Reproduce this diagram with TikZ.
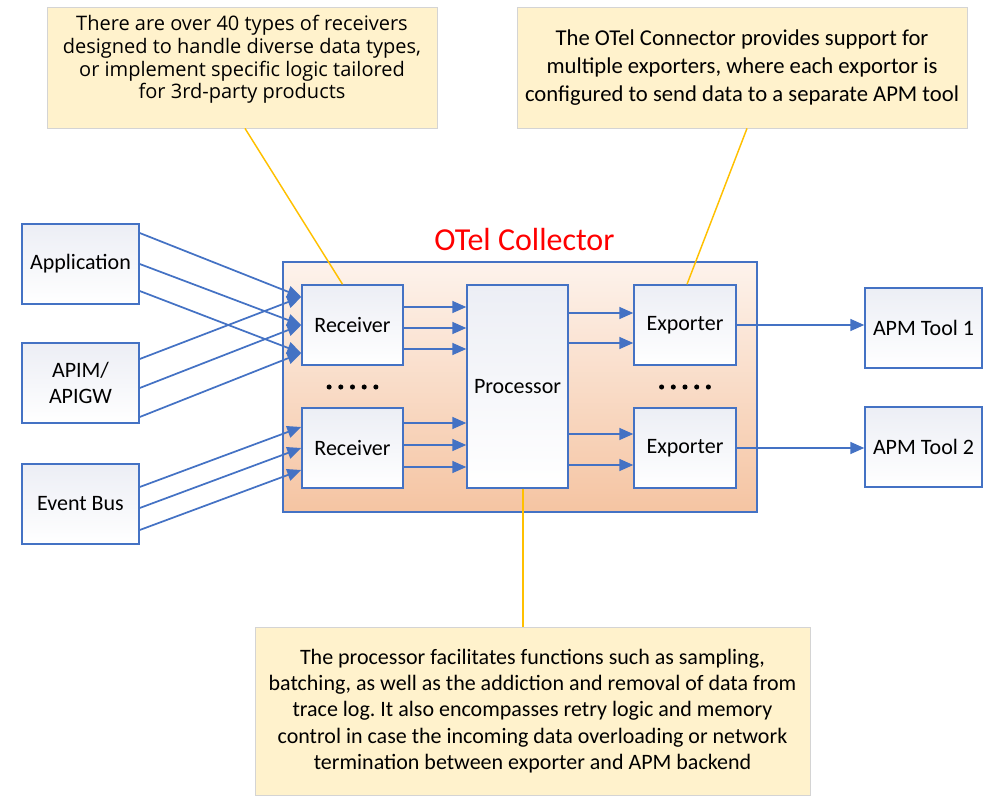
\documentclass[tikz,border=0pt]{standalone}
\usepackage{fontspec}
\setmainfont{Carlito}
\newfontfamily\notefont{Open Sans}
\usetikzlibrary{calc, positioning}
\usetikzlibrary{arrows.meta}
\frenchspacing

\definecolor{flowblue}{RGB}{68,114,196}
\definecolor{boxtop}{RGB}{236,238,245}
\definecolor{colltop}{RGB}{253,243,236}
\definecolor{collbot}{RGB}{245,196,162}
\definecolor{notefill}{RGB}{255,242,204}
\definecolor{noteline}{RGB}{212,212,212}
\definecolor{callout}{RGB}{255,192,0}
\definecolor{titlered}{RGB}{255,0,0}

\tikzset{
  block/.style={draw=flowblue, line width=1.1pt, top color=boxtop, bottom color=white,
    minimum width=75.75pt, minimum height=60pt, inner sep=0pt, align=center,
    font=\fontsize{16.5}{20}\selectfont},
  endpoint/.style={block, minimum width=87.75pt},
  flow/.style={draw=flowblue, line width=1.3pt, -{Triangle[length=10.5pt, width=9pt]}},
  note/.style={draw=noteline, line width=0.6pt, fill=notefill, inner sep=0pt, align=center},
  pointer/.style={draw=callout, line width=1.1pt},
}

\begin{document}
\begin{tikzpicture}[x=0.75pt, y=-0.75pt]
\useasboundingbox (0,0) rectangle (992,799);

% collector frame
\node[draw=flowblue, line width=1.1pt, top color=colltop, bottom color=collbot,
  minimum width=355.5pt, minimum height=187.5pt] (coll) at (520,387) {};
\node[text=titlered, font=\fontsize{24}{28}\selectfont] (colltitle) at (524.5,240) {OTel Collector};

% sources
\node[endpoint] (app) at (80.5,264) {Application};
\node[endpoint] (apim) at (80.5,383) {APIM/\\APIGW};
\node[endpoint] (bus) at (80.5,504) {Event Bus};

% inside the collector
\node[block] (rec1) at (352.5,325) {Receiver};
\node[block] (rec2) at (352.5,448) {Receiver};
\node[block, minimum height=152.25pt] (proc) at (517.5,386.5) {Processor};
\node[block, minimum width=76.5pt] (exp1) at (685,325) {Exporter};
\node[block, minimum width=76.5pt] (exp2) at (685,448) {Exporter};

\foreach \cx in {352.5,685}
  \foreach \i in {-2,...,2}
    \fill ($(\cx,387)+(\i*11.7,0)$) circle[radius=1.9pt];

% targets
\node[endpoint] (apm1) at (923.5,328) {APM Tool 1};
\node[endpoint] (apm2) at (923.5,447) {APM Tool 2};

% notes
\node[note, minimum width=292.5pt, minimum height=90.75pt,
  label={[align=center, yshift=6pt, font=\notefont\fontsize{15}{17}\selectfont]center:There are over 40 types of receivers\\designed to handle diverse data types,\\or implement specific logic tailored\\for 3rd-party products}]
  (note1) at (242,67.5) {};
\node[note, minimum width=337.5pt, minimum height=90.75pt, font=\fontsize{17}{21}\selectfont]
  (note2) at (742,67.5) {The OTel Connector provides support for\\multiple exporters, where each exportor is\\configured to send data to a separate APM tool};
\node[note, minimum width=416.25pt, minimum height=126pt, font=\fontsize{16.5}{19.7}\selectfont]
  (note3) at (532.5,711) {The processor facilitates functions such as sampling,\\batching, as well as the addiction and removal of data from\\trace log. It also encompasses retry logic and memory\\control in case the incoming data overloading or network\\termination between exporter and APM backend};

\draw[pointer] ($(note1.south)+(3,0)$) -- ($(rec1.north)+(-10,0)$);
\draw[pointer] ($(note2.south)+(5,0)$) -- ($(exp1.north)+(2,0)$);
\draw[pointer] ($(proc.south)+(5.5,0)$) coordinate (p) -- (p |- note3.north);

% sources to receivers
\foreach \a/\b in {-31/-28, 0/0, 27/28}
  \draw[flow] ($(app.east)+(0,\a)$) -- ($(rec1.west)+(0,\b)$);
\foreach \a/\b in {-24/-28, 5/0, 34/28}
  \draw[flow] ($(apim.east)+(0,\a)$) -- ($(rec1.west)+(0,\b)$);
\foreach \a/\b in {-17/-21, 4/0, 26/22}
  \draw[flow] ($(bus.east)+(0,\a)$) -- ($(rec2.west)+(0,\b)$);

% receivers to processor
\foreach \dy in {-18,3,24}
  \draw[flow] ($(rec1.east)+(0,\dy)$) coordinate (s) -- (s -| proc.west);
\foreach \dy in {-25,-3,19}
  \draw[flow] ($(rec2.east)+(0,\dy)$) coordinate (s) -- (s -| proc.west);

% processor to exporters
\foreach \dy in {-12,18}
  \path ($(exp1.west)+(0,\dy)$) coordinate (t) (t -| proc.east) edge[flow] (t);
\foreach \dy in {-14,17}
  \path ($(exp2.west)+(0,\dy)$) coordinate (t) (t -| proc.east) edge[flow] (t);

% exporters to APM tools
\draw[flow] (exp1.east) -- (exp1.east -| apm1.west);
\draw[flow] (exp2.east) -- (exp2.east -| apm2.west);
\end{tikzpicture}
\end{document}
